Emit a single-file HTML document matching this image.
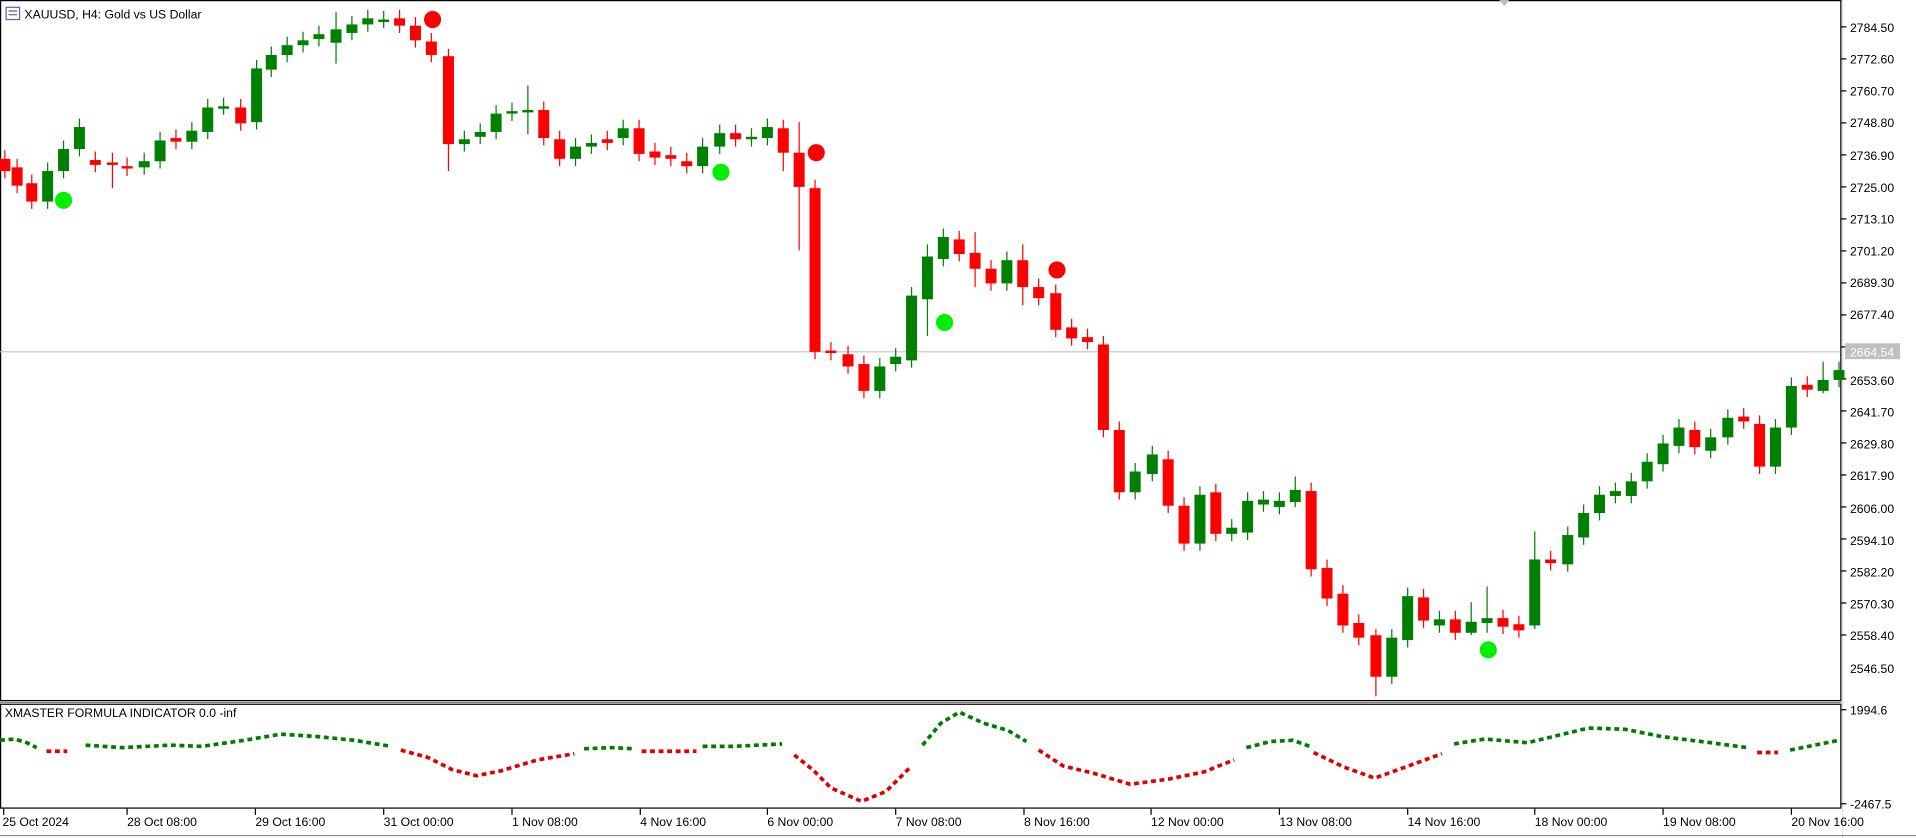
<!DOCTYPE html>
<html><head><meta charset="utf-8"><style>
html,body{margin:0;padding:0;background:#fff;overflow:hidden}
svg{display:block}
text{font-family:"Liberation Sans",sans-serif;font-size:10px;fill:#000}
</style></head><body>
<svg id="s" width="1916" height="838" viewBox="0 0 1568 686" preserveAspectRatio="none" xmlns="http://www.w3.org/2000/svg">
<rect x="0" y="0" width="1568" height="686" fill="#fff"/>
<rect x="0.5" y="0.5" width="1506" height="573" fill="none" stroke="#000" stroke-width="1"/>
<rect x="0.5" y="576.5" width="1506" height="85" fill="none" stroke="#000" stroke-width="1"/>
<line x1="0" y1="575" x2="1507" y2="575" stroke="#888" stroke-width="1"/>
<line x1="0" y1="288" x2="1506" y2="288" stroke="#c0c0c0" stroke-width="1"/>
<line x1="1508" y1="0" x2="1508" y2="686" stroke="#ddd"/>
<polygon points="1227,0 1235,0 1231,5" fill="#bbb"/>
<g id="g"></g>
<rect x="5" y="6" width="11" height="10" fill="#fff" stroke="#4a6fa5"/>
<line x1="7" y1="9" x2="14" y2="9" stroke="#c33"/><line x1="7" y1="12" x2="14" y2="12" stroke="#4a6fa5"/>
<text x="20" y="15">XAUUSD, H4:  Gold vs US Dollar</text>
<text x="4" y="587" style="font-size:10px">XMASTER FORMULA INDICATOR 0.0 -inf</text>
<g id="pl">
<text x="1514" y="26">2784.50</text><text x="1514" y="52">2772.60</text><text x="1514" y="78">2760.70</text><text x="1514" y="104">2748.80</text><text x="1514" y="131">2736.90</text><text x="1514" y="157">2725.00</text><text x="1514" y="183">2713.10</text><text x="1514" y="209">2701.20</text><text x="1514" y="235">2689.30</text><text x="1514" y="261">2677.40</text><text x="1514" y="315">2653.60</text><text x="1514" y="341">2641.70</text><text x="1514" y="367">2629.80</text><text x="1514" y="393">2617.90</text><text x="1514" y="420">2606.00</text><text x="1514" y="446">2594.10</text><text x="1514" y="472">2582.20</text><text x="1514" y="498">2570.30</text><text x="1514" y="524">2558.40</text><text x="1514" y="551">2546.50</text>
</g>
<rect x="1510" y="281" width="45" height="13" fill="#c0c0c0"/>
<text x="1514" y="292" style="fill:#fff">2664.54</text>
<text x="1514" y="585">1994.6</text>
<text x="1514" y="662">-2467.5</text>
<text x="2" y="676">25 Oct 2024</text><text x="104" y="676">28 Oct 08:00</text><text x="209" y="676">29 Oct 16:00</text><text x="314" y="676">31 Oct 00:00</text><text x="419" y="676">1 Nov 08:00</text><text x="524" y="676">4 Nov 16:00</text><text x="628" y="676">6 Nov 00:00</text><text x="733" y="676">7 Nov 08:00</text><text x="838" y="676">8 Nov 16:00</text><text x="942" y="676">12 Nov 00:00</text><text x="1047" y="676">13 Nov 08:00</text><text x="1152" y="676">14 Nov 16:00</text><text x="1256" y="676">18 Nov 00:00</text><text x="1361" y="676">19 Nov 08:00</text><text x="1466" y="676">20 Nov 16:00</text>
<line x1="0" y1="684" x2="1568" y2="684" stroke="#888"/>
</svg>
<script>
var NS="http://www.w3.org/2000/svg",g=document.getElementById('g');
function el(t,a){var e=document.createElementNS(NS,t);for(var k in a)e.setAttribute(k,a[k]);g.appendChild(e);return e;}
for(var i=0;i<20;i++){var y=22+i*26.2;el('line',{x1:1507,y1:y,x2:1511,y2:y,stroke:'#000'});}
el('line',{x1:1507,y1:581,x2:1511,y2:581,stroke:'#000'});el('line',{x1:1507,y1:658,x2:1511,y2:658,stroke:'#000'});
[3,104,209,314,419,524,628,733,838,942,1047,1152,1256,1361,1466].forEach(function(x){el('line',{x1:x,y1:662,x2:x,y2:667,stroke:'#000'});});
var C=[[4,'r',130,140],[14,'r',137,152],[26,'r',150,165],[39,'g',140,165],[52,'g',122,140],[65,'g',104,122],[78,'r',131,135],[92,'r',133,134],[104,'r',136,138],[118,'g',132,137],[131,'g',115,132],[144,'r',113,116],[157,'g',107,116],[170,'g',88,108],[183,'g',87,88],[197,'r',88,101],[210,'g',56,100],[222,'g',45,57],[235,'g',37,45],[248,'g',33,37],[261,'g',28,32],[275,'g',24,35],[288,'g',20,27],[301,'g',15,20],[314,'g',16,17],[327,'r',15,21],[340,'r',21,33],[353,'r',34,45],[367,'r',46,118],[380,'g',114,118],[393,'g',108,112],[406,'g',93,108],[419,'g',91,93],[432,'g',90,91],[445,'r',90,113],[458,'r',114,130],[471,'g',120,130],[484,'g',117,120],[497,'r',114,117],[510,'g',105,113],[523,'r',105,126],[536,'r',124,129],[549,'r',127,130],[562,'r',132,136],[575,'g',120,136],[589,'g',109,120],[602,'r',109,114],[615,'g',112,114],[628,'g',104,113],[641,'r',105,125],[654,'r',125,153],[667,'r',154,288],[680,'r',287,289],[694,'r',290,300],[707,'r',298,320],[720,'g',300,320],[733,'g',292,298],[746,'g',242,295],[759,'g',210,245],[772,'g',194,212],[785,'r',196,208],[798,'r',207,220],[811,'r',220,232],[824,'g',213,232],[837,'r',213,235],[850,'r',235,244],[864,'r',240,270],[877,'r',268,277],[890,'r',276,280],[903,'r',282,352],[916,'r',352,403],[929,'g',386,403],[943,'g',372,388],[956,'r',376,414],[969,'r',414,445],[982,'g',405,445],[995,'r',403,437],[1008,'g',432,437],[1021,'g',410,436],[1034,'g',409,413],[1047,'g',410,415],[1060,'g',401,411],[1073,'r',402,466],[1086,'r',465,490],[1099,'r',486,512],[1112,'r',510,522],[1126,'r',520,554],[1139,'g',522,554],[1152,'g',488,524],[1165,'r',489,508],[1178,'g',507,512],[1191,'r',507,518],[1204,'g',509,518],[1217,'g',506,510],[1230,'r',506,513],[1243,'r',511,516],[1256,'g',458,512],[1269,'r',458,461],[1283,'g',438,462],[1296,'g',420,440],[1309,'g',405,420],[1322,'g',402,406],[1335,'g',394,406],[1348,'g',378,394],[1361,'g',363,380],[1374,'g',350,365],[1387,'r',352,366],[1400,'g',358,369],[1414,'g',342,358],[1427,'r',341,345],[1440,'r',347,382],[1453,'g',350,382],[1466,'g',316,350],[1479,'r',315,319],[1492,'g',311,320],[1505,'g',303,311]];
var W={92:[125,154],275:[10,52],367:[40,140],654:[100,205],641:[98,140],759:[200,275],798:[190,235],837:[200,250],1060:[390,415],1126:[515,570],1256:[435,515],1492:[296,322],432:[70,110],614:[104,125],1204:[493,520],1217:[480,518]};
C.forEach(function(c){var col=c[1]=='g'?'#008000':'#ff0000',x=c[0],t=c[2],b=c[3];var w=W[x]||[t-7,b+6];
el('line',{x1:x,y1:w[0],x2:x,y2:w[1],stroke:col,'stroke-width':1});
el('rect',{x:x-4.5,y:t,width:9,height:Math.max(2,b-t),fill:col});});
[[354,16,'#ff0000'],[668,125,'#ff0000'],[865,221,'#ff0000'],[52,164,'#00ee00'],[590,141,'#00ee00'],[773,264,'#00ee00'],[1218,532,'#00ee00']].forEach(function(d){el('circle',{cx:d[0],cy:d[1],r:7,fill:d[2]});});
var S=[['g',[[0,606],[12,605],[22,608],[30,612]]],['r',[[38,615],[55,615]]],
['g',[[70,610],[100,612],[140,610],[165,611],[200,606],[230,601],[260,603],[290,606],[320,611]]],
['r',[[328,614],[350,620],[370,630],[390,635],[410,631],[440,622],[470,617]]],
['g',[[478,613],[500,612],[520,613]]],['r',[[525,615],[570,615]]],['g',[[575,611],[600,611],[640,609]]],
['r',[[650,618],[665,630],[680,645],[705,656],[725,648],[745,628]]],
['g',[[755,610],[770,592],[785,583],[805,592],[825,598],[840,607]]],
['r',[[850,614],[870,627],[895,633],[925,642],[955,638],[985,632],[1010,622]]],
['g',[[1020,612],[1040,607],[1058,606],[1072,611]]],
['r',[[1075,616],[1100,628],[1125,637],[1150,628],[1180,617]]],
['g',[[1190,609],[1215,605],[1250,608],[1275,602],[1300,596],[1330,597],[1360,603],[1400,608],[1430,612]]],
['r',[[1438,616],[1455,616]]],['g',[[1465,614],[1485,610],[1505,606]]]];
S.forEach(function(s){el('polyline',{points:s[1].map(function(p){return p.join(',')}).join(' '),fill:'none',stroke:s[0]=='g'?'#007a00':'#e00000','stroke-width':3,'stroke-dasharray':'4,3'});});
</script>
</body></html>
